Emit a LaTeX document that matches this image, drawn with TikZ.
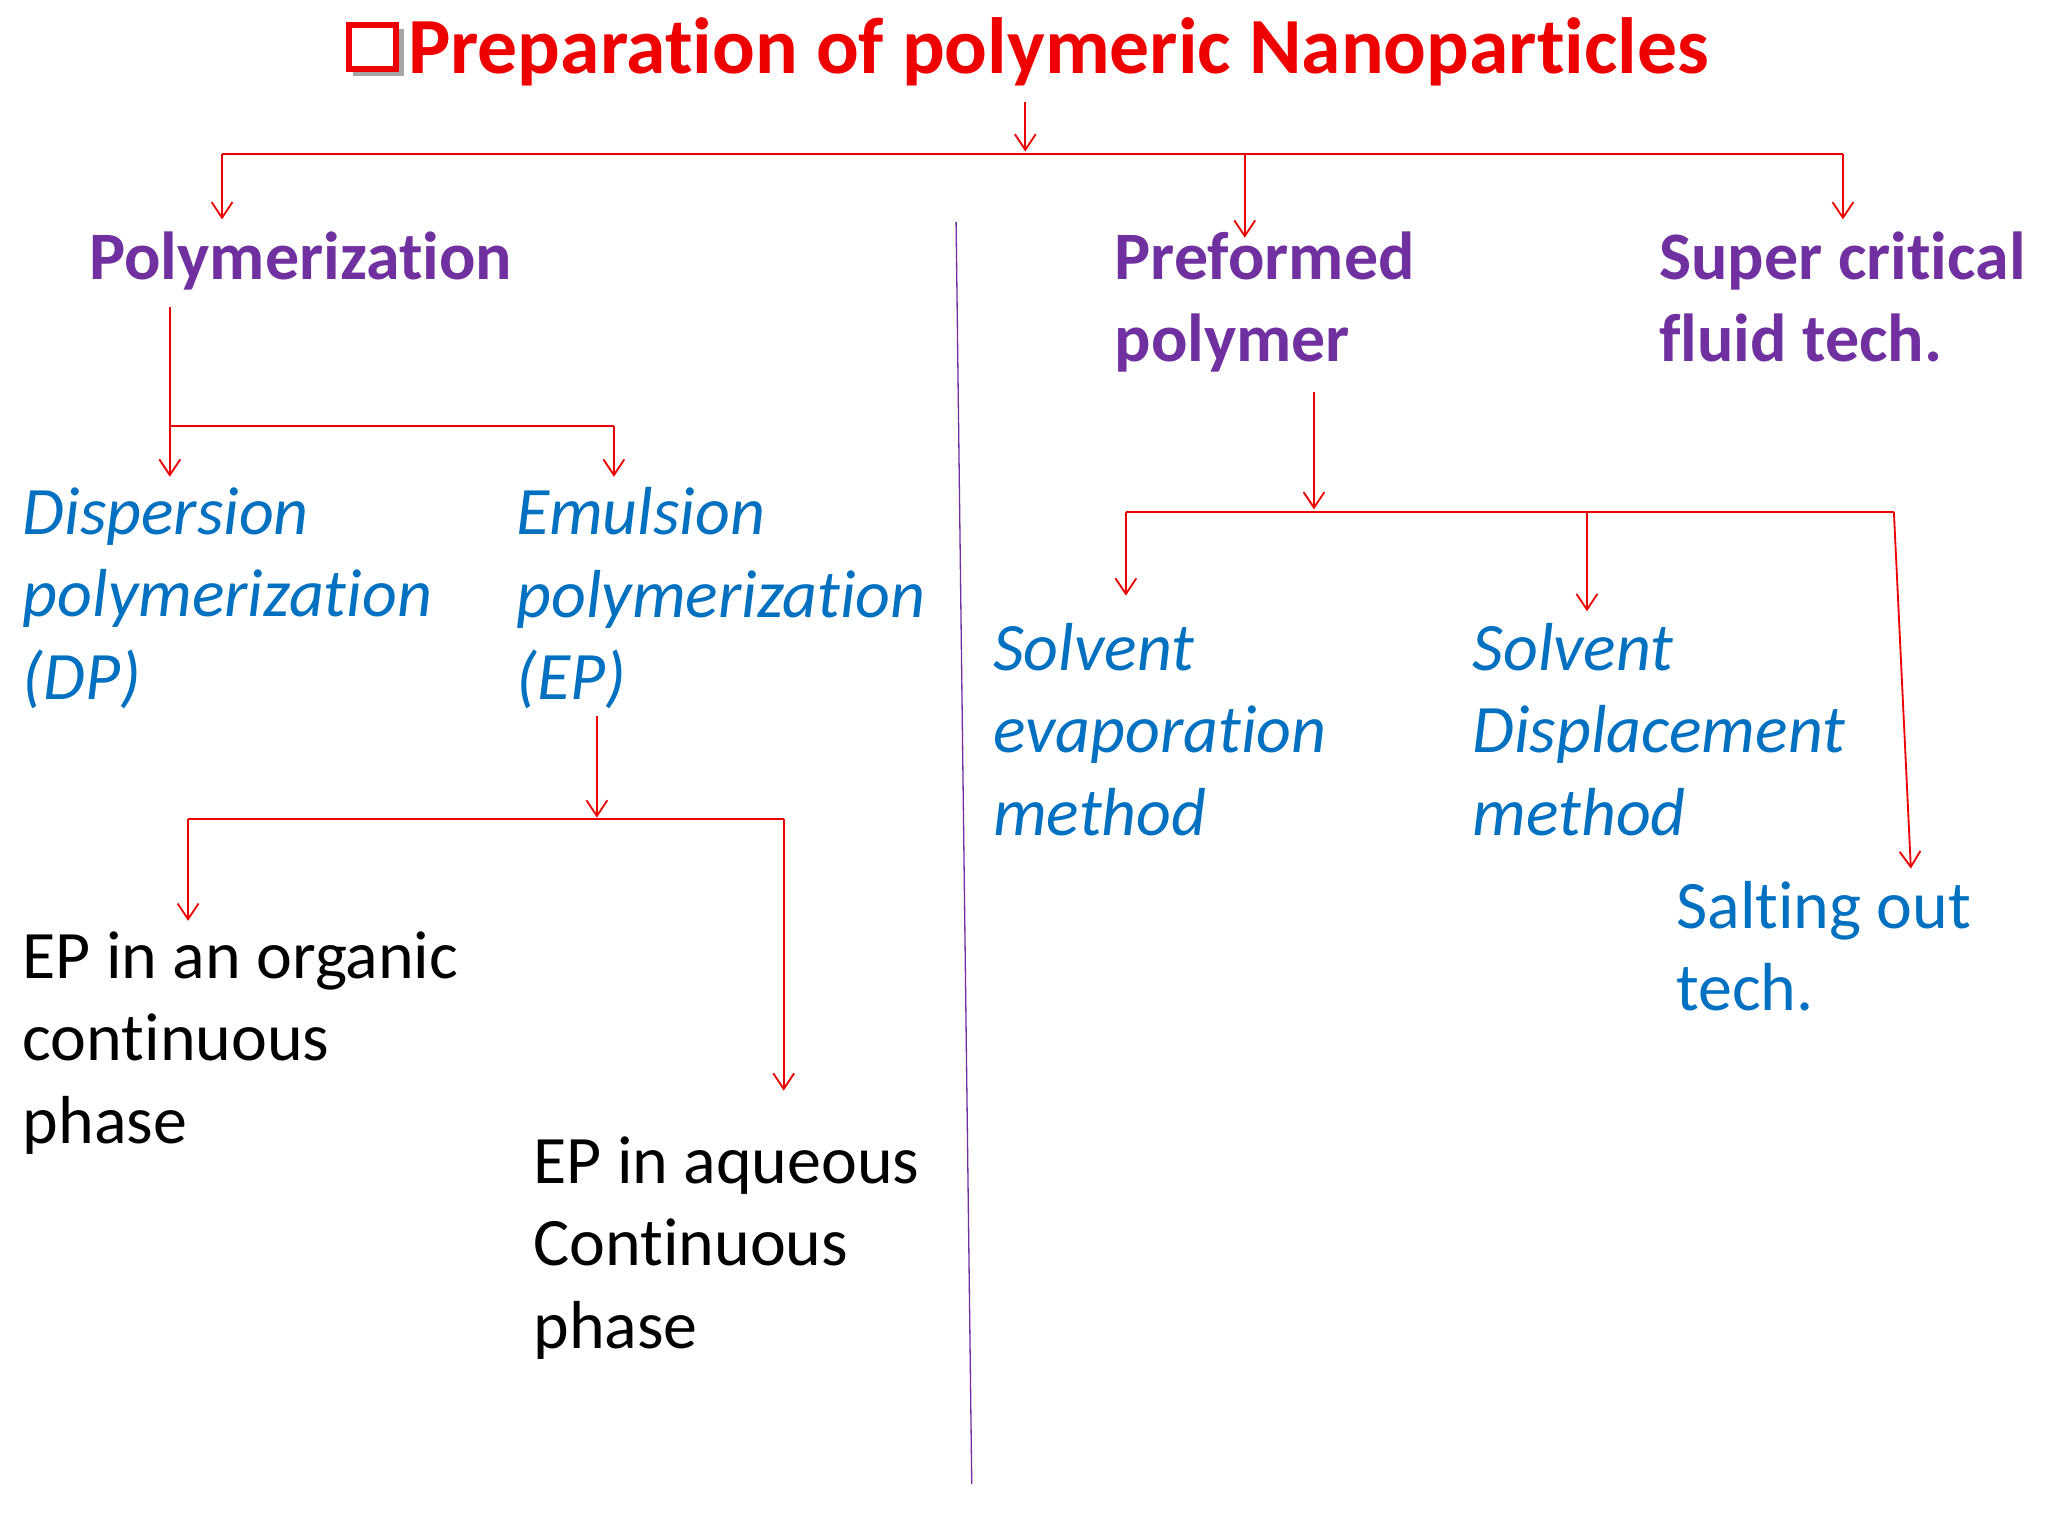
\documentclass[tikz,border=0pt]{standalone}
\usepackage{fontspec}
\setmainfont{Carlito}[Ligatures={NoCommon}]
\usetikzlibrary{arrows.meta}
\definecolor{tred}{RGB}{238,0,0}
\definecolor{tpur}{RGB}{112,48,160}
\definecolor{tblu}{RGB}{0,112,192}
\begin{document}
\begin{tikzpicture}[x=0.5pt,y=-0.5pt,
  ln/.style={tred,line width=0.7pt},
  ar/.style={ln,-{Straight Barb[length=6pt,width=8pt]}},
  head/.style={tpur,font=\fontsize{26}{31.5}\selectfont\bfseries,align=left,anchor=north west,inner sep=0},
  sub/.style={tblu,font=\fontsize{26}{31.5}\selectfont\itshape,align=left,anchor=north west,inner sep=0},
  leaf/.style={black,font=\fontsize{26}{31.5}\selectfont,align=left,anchor=north west,inner sep=0},
  leafb/.style={tblu,font=\fontsize{26}{31.5}\selectfont,align=left,anchor=north west,inner sep=0}]
\useasboundingbox[fill=white] (0,0) rectangle (1568,1176);
% title
\node[tred,font=\fontsize{30.5}{32}\selectfont\bfseries,anchor=west,inner sep=0] (title) at (312,40) {Preparation of polymeric Nanoparticles};
\fill[gray!70] (270,22) rectangle (309,58);
\draw[tred,line width=2.2pt,fill=white] (267,19) rectangle (303,53);
% nodes
\node[head] (poly) at (68,177) {Polymerization};
\node[head] (pref) at (853,177) {Preformed\\polymer};
\node[head] (scf) at (1270,177) {Super critical\\fluid tech.};
\node[sub] (dp) at (17,373) {Dispersion\\polymerization\\(DP)};
\node[sub] (ep) at (395,373) {Emulsion\\polymerization\\(EP)};
\node[leaf] (org) at (17,713) {EP in an organic\\continuous\\phase};
\node[leaf] (aq) at (408,870) {EP in aqueous\\Continuous\\phase};
\node[sub] (sev) at (760,477) {Solvent\\evaporation\\method};
\node[sub] (sdis) at (1127,477) {Solvent\\Displacement\\method};
\node[leafb] (salt) at (1283,674) {Salting out\\tech.};
% connectors
\coordinate (t0) at (785,78); \coordinate (t1) at (785,116);
\draw[ar] (t0) -- (t1);
\draw[ln] (170,118) -- (1411,118);
\draw[ar] (170,118) -- (170,168);
\draw[ar] (953,118) -- (953,182);
\draw[ar] (1411,118) -- (1411,168);
\draw[ar] (130,235) -- (130,365);
\draw[ln] (130,326) -- (470,326);
\draw[ar] (470,326) -- (470,365);
\draw[ar] (457,548) -- (457,626);
\draw[ln] (144,627) -- (600,627);
\draw[ar] (144,627) -- (144,705);
\draw[ar] (600,627) -- (600,835);
\draw[ar] (1006,300) -- (1006,390);
\draw[ln] (862,392) -- (1450,392);
\draw[ar] (862,392) -- (862,456);
\draw[ar] (1215,392) -- (1215,468);
\draw[ar] (1450,392) -- (1463,665);
\draw[tpur,line width=0.5pt] (732,170) -- (744,1136);
\end{tikzpicture}
\end{document}
